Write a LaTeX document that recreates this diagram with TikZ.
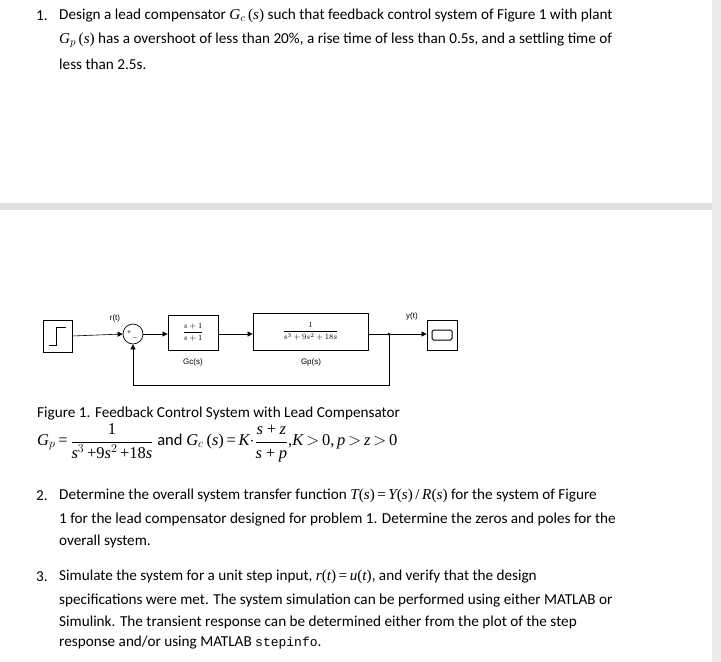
\documentclass[tikz,border=0pt]{standalone}
\usepackage{fontspec}
\setmainfont{Carlito}
\newfontfamily\mathf{Liberation Serif}
\newfontfamily\sfa{Liberation Sans}
\newfontfamily\monof{Liberation Mono}
\usetikzlibrary{arrows.meta}
\newcommand{\mi}[1]{{\mathf\itshape #1}}
\newcommand{\mr}[1]{{\mathf #1}}
\begin{document}
\begin{tikzpicture}[x=1pt,y=-1pt,
  txt/.style={anchor=west,inner sep=0pt,font=\fontsize{15.2}{18}\selectfont},
  blk/.style={draw,line width=0.8pt,fill=white},
  lbl/.style={font=\sfa\fontsize{8}{9}\selectfont,inner sep=0pt},
  sig/.style={line width=0.6pt,-{Triangle[length=5pt,width=5pt]}},
  wire/.style={line width=0.6pt}]
\useasboundingbox (0,0) rectangle (721,662);
\fill[white] (0,0) rectangle (721,662);
\fill[gray!25] (0,203) rectangle (712,210);
\fill[gray!15] (712,0) rectangle (721,662);
% item 1
\node[txt] (n1) at (36,16) {1.};
\node[txt] (t1a) at (59,16) {Design a lead compensator \mi{G}$_{c}$\,\mr{(}\mi{s}\mr{)} such that feedback control system of Figure 1 with plant};
\node[txt] (t1b) at (59,40) {\mi{G}$_{p}$\,\mr{(}\mi{s}\mr{)} has a overshoot of less than 20\%, a rise time of less than 0.5s, and a settling time of};
\node[txt] (t1c) at (59,64) {less than 2.5s.};
% diagram
\node[blk,minimum width=29pt,minimum height=32pt] (st) at (57.5,336) {};
\draw[line width=0.7pt] (st.center)++(-9,9) -- ++(8,0) -- ++(0,-18) -- ++(9,0);
\node[draw,circle,minimum size=20pt,inner sep=0pt,line width=0.7pt] (sum) at (133,334) {};
\node[font=\fontsize{7}{7}\selectfont,inner sep=0pt] at (129,333) {+};
\node[font=\fontsize{7}{7}\selectfont,inner sep=0pt] at (135,338) {\_};
\node[blk,minimum width=50pt,minimum height=35pt] (gc) at (193,332.5) {\fontsize{8}{9}\selectfont$\displaystyle\frac{s+1}{s+1}$};
\node[blk,minimum width=115pt,minimum height=37pt] (gp) at (310.5,331.5) {\fontsize{8}{9}\selectfont$\displaystyle\frac{1}{s^3+9s^2+18s}$};
\node[blk,minimum width=30pt,minimum height=30pt] (sc) at (442,335) {};
\draw[line width=1pt,rounded corners=1.5pt] (sc.center)++(-10,-5) rectangle ++(20,10);
\coordinate (br) at (389,334);
\coordinate (fb) at (389,385);
\coordinate (fb2) at (133,385);
\fill (br) circle (1.5pt);
\draw[sig] (st.east) -- (sum.west);
\draw[sig] (sum.east) -- (gc.west |- sum.east);
\draw[sig] (gc.east |- sum.east) -- (gp.west |- sum.east);
\draw[wire] (gp.east |- br) -- (br);
\draw[sig] (br) -- (sc.west |- br);
\draw[sig] (br) -- (fb) -- (fb2) -- (sum.south);
\node[lbl] (rl) at (115,318) {r(t)};
\node[lbl] (yl) at (412,316) {y(t)};
\node[lbl] (gcl) at (193,362) {Gc(s)};
\node[lbl] (gpl) at (311,362) {Gp(s)};
% caption
\node[txt] (cap) at (37,414) {Figure 1. Feedback Control System with Lead Compensator};
\node[txt,font=\fontsize{16.5}{19}\selectfont] (eq) at (37,443) {\mi{G}$_{p}$\,\mr{=}\,\raisebox{-0.2ex}{$\displaystyle\frac{\mbox{\mr{1}}}{\mbox{\mr{\itshape s\upshape$^3$\,+9\itshape s\upshape$^2$\,+18\itshape s}}}$} and \mi{G}$_{c}$\,\mr{(}\mi{s}\mr{)}\mr{\,=\,}\mi{K}$\cdot$\raisebox{-0.2ex}{$\displaystyle\frac{\mbox{\mi{s\,+\,z}}}{\mbox{\mi{s\,+\,p}}}$}\mr{,}\mi{K}\,\mr{$>$\,0,\,}\mi{p}\,\mr{$>$}\,\mi{z}\,\mr{$>$\,0}};
% item 2
\node[txt] (n2) at (36,496) {2.};
\node[txt] (t2a) at (59,496) {Determine the overall system transfer function \mi{T}\mr{(}\mi{s}\mr{)\,=\,}\mi{Y}\mr{(}\mi{s}\mr{)\,/\,}\mi{R}\mr{(}\mi{s}\mr{)} for the system of Figure};
\node[txt] (t2b) at (59,520) {1 for the lead compensator designed for problem 1. Determine the zeros and poles for the};
\node[txt] (t2c) at (59,541) {overall system.};
% item 3
\node[txt] (n3) at (36,577) {3.};
\node[txt] (t3a) at (59,577) {Simulate the system for a unit step input, \mi{r}\mr{(}\mi{t}\mr{)\,=\,}\mi{u}\mr{(}\mi{t}\mr{)}, and verify that the design};
\node[txt] (t3b) at (59,601) {specifications were met. The system simulation can be performed using either MATLAB or};
\node[txt] (t3c) at (59,622) {Simulink. The transient response can be determined either from the plot of the step};
\node[txt] (t3d) at (59,643) {response and/or using MATLAB {\monof\fontsize{13}{14}\selectfont stepinfo}.};
\end{tikzpicture}
\end{document}
